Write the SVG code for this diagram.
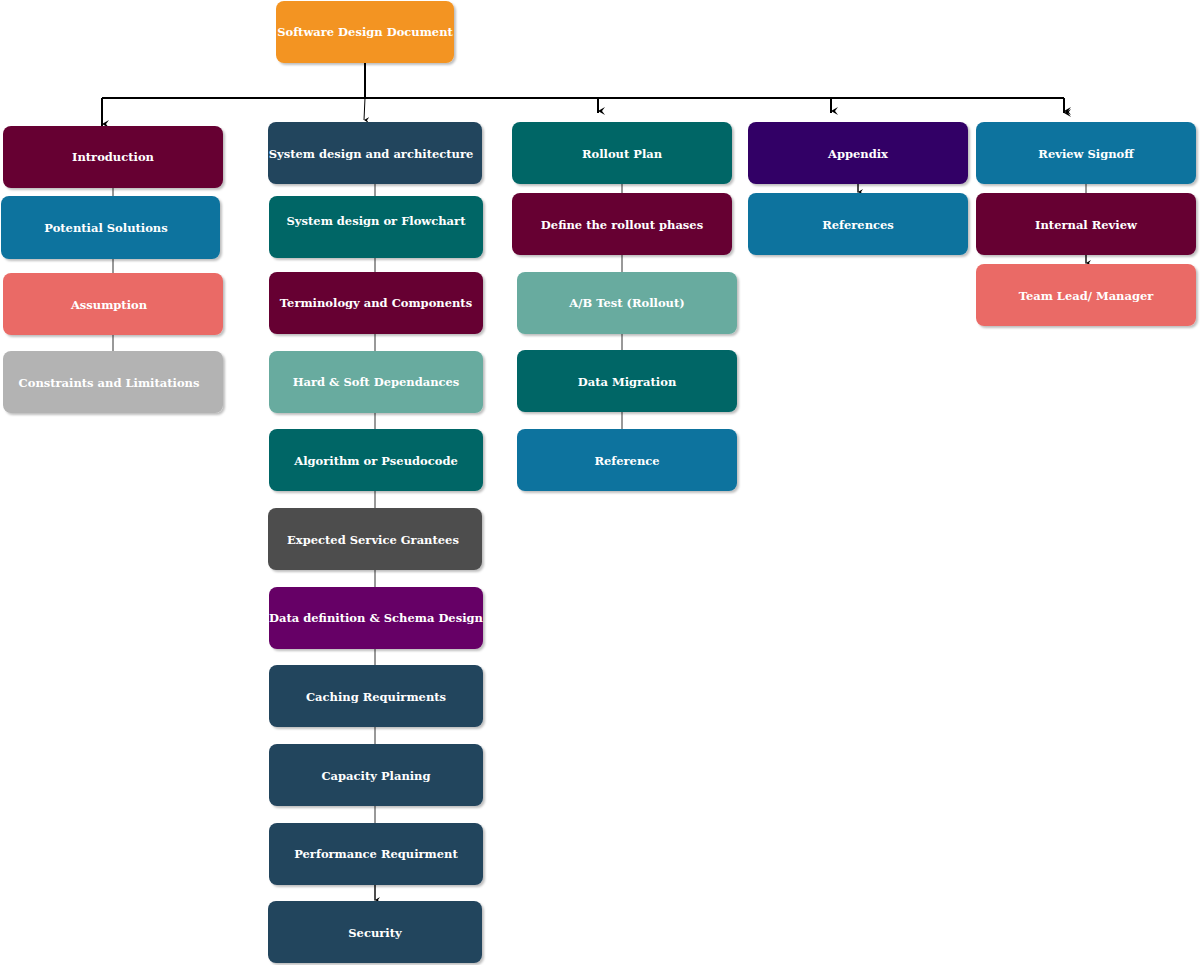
<svg xmlns="http://www.w3.org/2000/svg" width="1200" height="965" viewBox="0 0 1200 965">
<style>
.b{stroke:none;filter:url(#sh)}
.t{font-family:"DejaVu Serif",serif;font-weight:bold;font-size:11.5px;fill:#fff;text-anchor:middle;dominant-baseline:central}
.l{stroke:#333;stroke-width:1;fill:none}
.a{stroke:#000;stroke-width:2;fill:none}
</style>
<defs>
<filter id="sh" x="-5%" y="-5%" width="115%" height="125%"><feDropShadow dx="2" dy="2" stdDeviation="0.8" flood-color="#000" flood-opacity="0.25"/></filter>
<marker id="m" markerWidth="8" markerHeight="8" refX="4" refY="7" orient="auto" markerUnits="userSpaceOnUse"><path d="M0,0 L4,7 L8,0 L4,3 Z" fill="#000"/></marker>
<marker id="s" markerWidth="6" markerHeight="6" refX="3" refY="5" orient="auto" markerUnits="userSpaceOnUse"><path d="M0,0 L3,5 L6,0 L3,2 Z" fill="#000"/></marker>
</defs>
<g id="connectors">
<path class="l" d="M113,188V351 M375,184V901 M622,184V429 M1086,184V264 M858,184V193"/>
<path class="a" d="M365,63V98 M102,98H1064 M102,98V126 M598,98V113 M831,98V113 M1064,98V113" marker-end="url(#m)"/>
<path d="M102,98V124" class="a" marker-end="url(#m)"/>
<path d="M598,98V111" class="a" marker-end="url(#m)"/>
<path d="M831,98V111" class="a" marker-end="url(#m)"/>
<path d="M1064,98V111" class="a" marker-end="url(#m)"/>
<path d="M365,98L364,120" stroke="#000" stroke-width="1" fill="none" marker-end="url(#s)"/>
<path d="M375,885V900" stroke="#000" stroke-width="1" fill="none" marker-end="url(#s)"/>
<path d="M858,184V192" stroke="#000" stroke-width="1" fill="none" marker-end="url(#s)"/>
<path d="M1086,255V263" stroke="#000" stroke-width="1" fill="none" marker-end="url(#s)"/>
</g>
<g id="root"><rect class="b" x="276" y="1" width="178" height="62" rx="8" fill="#F39420"/><text class="t" x="365" y="32">Software Design Document</text></g>
<g id="intro"><rect class="b" x="3" y="126" width="220" height="62" rx="8" fill="#660033"/><text class="t" x="113" y="157">Introduction</text></g>
<g id="potential"><rect class="b" x="1" y="196" width="219" height="63" rx="8" fill="#10739E"/><text class="t" x="106" y="228">Potential Solutions</text></g>
<g id="assumption"><rect class="b" x="3" y="273" width="220" height="62" rx="8" fill="#EA6B66"/><text class="t" x="109" y="305">Assumption</text></g>
<g id="constraints"><rect class="b" x="3" y="351" width="220" height="62" rx="8" fill="#B3B3B3"/><text class="t" x="109" y="383">Constraints and Limitations</text></g>
<g id="sysarch"><rect class="b" x="268" y="122" width="214" height="62" rx="8" fill="#23445D"/><text class="t" x="371" y="154">System design and architecture</text></g>
<g id="flowchart"><rect class="b" x="269" y="196" width="214" height="62" rx="8" fill="#006666"/><text class="t" x="376" y="221">System design or Flowchart</text></g>
<g id="terminology"><rect class="b" x="269" y="272" width="214" height="62" rx="8" fill="#660033"/><text class="t" x="376" y="303">Terminology and Components</text></g>
<g id="deps"><rect class="b" x="269" y="351" width="214" height="62" rx="8" fill="#67AB9F"/><text class="t" x="376" y="382">Hard &amp; Soft Dependances</text></g>
<g id="algo"><rect class="b" x="269" y="429" width="214" height="62" rx="8" fill="#006666"/><text class="t" x="376" y="461">Algorithm or Pseudocode</text></g>
<g id="esg"><rect class="b" x="268" y="508" width="214" height="62" rx="8" fill="#4D4D4D"/><text class="t" x="373" y="540">Expected Service  Grantees</text></g>
<g id="datadef"><rect class="b" x="269" y="587" width="214" height="62" rx="8" fill="#660066"/><text class="t" x="376" y="618">Data definition &amp; Schema Design</text></g>
<g id="caching"><rect class="b" x="269" y="665" width="214" height="62" rx="8" fill="#23445D"/><text class="t" x="376" y="697">Caching Requirments</text></g>
<g id="capacity"><rect class="b" x="269" y="744" width="214" height="62" rx="8" fill="#23445D"/><text class="t" x="376" y="776">Capacity Planing</text></g>
<g id="perf"><rect class="b" x="269" y="823" width="214" height="62" rx="8" fill="#23445D"/><text class="t" x="376" y="854">Performance Requirment</text></g>
<g id="security"><rect class="b" x="268" y="901" width="214" height="62" rx="8" fill="#23445D"/><text class="t" x="375" y="933">Security</text></g>
<g id="rollout"><rect class="b" x="512" y="122" width="220" height="62" rx="8" fill="#006666"/><text class="t" x="622" y="154">Rollout  Plan</text></g>
<g id="phases"><rect class="b" x="512" y="193" width="220" height="62" rx="8" fill="#660033"/><text class="t" x="622" y="225">Define the rollout phases</text></g>
<g id="abtest"><rect class="b" x="517" y="272" width="220" height="62" rx="8" fill="#67AB9F"/><text class="t" x="627" y="303">A/B Test (Rollout)</text></g>
<g id="migration"><rect class="b" x="517" y="350" width="220" height="62" rx="8" fill="#006666"/><text class="t" x="627" y="382">Data Migration</text></g>
<g id="reference"><rect class="b" x="517" y="429" width="220" height="62" rx="8" fill="#10739E"/><text class="t" x="627" y="461">Reference</text></g>
<g id="appendix"><rect class="b" x="748" y="122" width="220" height="62" rx="8" fill="#330066"/><text class="t" x="858" y="154">Appendix</text></g>
<g id="references"><rect class="b" x="748" y="193" width="220" height="62" rx="8" fill="#10739E"/><text class="t" x="858" y="225">References</text></g>
<g id="signoff"><rect class="b" x="976" y="122" width="220" height="62" rx="8" fill="#10739E"/><text class="t" x="1086" y="154">Review Signoff</text></g>
<g id="internal"><rect class="b" x="976" y="193" width="220" height="62" rx="8" fill="#660033"/><text class="t" x="1086" y="225">Internal Review</text></g>
<g id="teamlead"><rect class="b" x="976" y="264" width="220" height="62" rx="8" fill="#EA6B66"/><text class="t" x="1086" y="296">Team Lead/ Manager</text></g>
</svg>
